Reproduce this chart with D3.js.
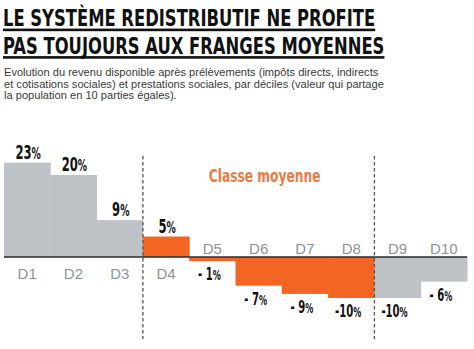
<!DOCTYPE html>
<html>
<head>
<meta charset="utf-8">
<script src="https://cdn.jsdelivr.net/npm/d3@7/dist/d3.min.js"></script>
<style>
  html, body { margin: 0; padding: 0; background: #fff; }
  svg { display: block; }
</style>
</head>
<body>
<svg id="chart" width="474" height="349"></svg>
<script>
// Déciles de niveau de vie et évolution du revenu disponible (%)
const categories = ["D1", "D2", "D3", "D4", "D5", "D6", "D7", "D8", "D9", "D10"];
const values = [23, 20, 9, 5, -1, -7, -9, -10, -10, -6];
// Déciles rattachés à la classe moyenne
const middleClass = ["D4", "D5", "D6", "D7", "D8"];

const titleLines = [
  "LE SYSTÈME REDISTRIBUTIF NE PROFITE",
  "PAS TOUJOURS AUX FRANGES MOYENNES"
];
const subtitleLines = [
  "Evolution du revenu disponible après prélèvements (impôts directs, indirects",
  "et cotisations sociales) et prestations sociales, par déciles (valeur qui partage",
  "la population en 10 parties égales)."
];
const middleLabel = "Classe moyenne";

const GREY = "#bfc3c7";
const ORANGE = "#f26522";
const CONDENSED = "'Liberation Sans Narrow', 'DejaVu Sans Condensed', 'Liberation Sans', sans-serif";

const svg = d3.select("#chart");

// ---- Titre souligné ----
const titleG = svg.append("g");
titleLines.forEach((line, i) => {
  const baseY = 26 + i * 27.5;
  const g = titleG.append("g").attr("transform", `translate(3,${baseY}) scale(0.775,1)`);
  const t = g.append("text")
    .attr("x", 0).attr("y", 0)
    .attr("font-family", CONDENSED)
    .attr("font-weight", "bold")
    .attr("font-size", 23.5)
    .attr("fill", "#111")
    .text(line);
  const w = t.node().getComputedTextLength();
  g.append("rect")
    .attr("x", 0).attr("y", 2.6)
    .attr("width", w).attr("height", 2.6)
    .attr("fill", "#111");
});

// ---- Sous-titre ----
svg.append("g").selectAll("text")
  .data(subtitleLines)
  .join("text")
  .attr("x", 4)
  .attr("y", (d, i) => 76 + i * 11.6)
  .attr("font-family", "'Liberation Sans', Arial, sans-serif")
  .attr("font-size", 11.1)
  .attr("fill", "#3a3a3a")
  .text(d => d);

// ---- Échelles ----
const x = d3.scaleBand().domain(categories).range([4, 467]).padding(0);
const y = d3.scaleLinear().domain([-10, 23]).range([298, 162.7]);
const zeroY = y(0);
const bw = x.bandwidth();

const data = categories.map((c, i) => ({ cat: c, v: values[i], mid: middleClass.includes(c) }));

// ---- Barres ----
svg.append("g").selectAll("rect")
  .data(data)
  .join("rect")
  .attr("x", d => x(d.cat))
  .attr("width", bw + 0.5)
  .attr("y", d => Math.min(y(d.v), zeroY))
  .attr("height", d => Math.abs(y(d.v) - zeroY))
  .attr("fill", d => d.mid ? ORANGE : GREY);

// ---- Ligne du zéro ----
svg.append("line")
  .attr("x1", x.range()[0]).attr("x2", x.range()[1])
  .attr("y1", zeroY).attr("y2", zeroY)
  .attr("stroke", "#2b2b2b").attr("stroke-width", 1.3);

// ---- Séparateurs de la classe moyenne ----
const sepX = [x(middleClass[0]), x(middleClass[middleClass.length - 1]) + bw];
svg.append("g").selectAll("line")
  .data(sepX)
  .join("line")
  .attr("x1", d => d).attr("x2", d => d)
  .attr("y1", 156).attr("y2", 339)
  .attr("stroke", "#555").attr("stroke-width", 1.3)
  .attr("stroke-dasharray", "3.5,2.5");

// ---- Libellés des déciles ----
svg.append("g").selectAll("text")
  .data(data)
  .join("text")
  .attr("x", d => x(d.cat) + bw / 2)
  .attr("y", d => d.v >= 0 ? zeroY + 22 : zeroY - 3)
  .attr("text-anchor", "middle")
  .attr("font-family", "'Liberation Sans', Arial, sans-serif")
  .attr("font-size", 15)
  .attr("fill", "#8e9398")
  .text(d => d.cat);

// ---- Valeurs ----
const valG = svg.append("g").selectAll("g")
  .data(data)
  .join("g")
  .attr("transform", d => {
    const cx = x(d.cat) + bw / 2 + (d.v < 0 ? -3 : 1);
    const cy = d.v >= 0 ? y(d.v) - 4 : y(d.v) + 19;
    return `translate(${cx},${cy}) scale(0.66,1)`;
  });
const valText = valG.append("text")
  .attr("text-anchor", "middle")
  .attr("font-family", CONDENSED)
  .attr("font-weight", "bold")
  .attr("font-size", d => d.v >= 0 ? 19.5 : 17)
  .attr("fill", "#111");
valText.append("tspan").text(d => {
  if (d.v >= 0) return String(d.v);
  const a = Math.abs(d.v);
  return (a >= 10 ? "-" : "- ") + a;
});
valText.append("tspan").attr("font-size", "0.8em").text("%");

// ---- Étiquette classe moyenne ----
svg.append("g")
  .attr("transform", `translate(${(sepX[0] + sepX[1]) / 2 + 6},181.5) scale(0.8,1)`)
  .append("text")
  .attr("text-anchor", "middle")
  .attr("font-family", CONDENSED)
  .attr("font-weight", "bold")
  .attr("font-size", 17)
  .attr("fill", "#ec7a45")
  .text(middleLabel);
</script>
</body>
</html>
